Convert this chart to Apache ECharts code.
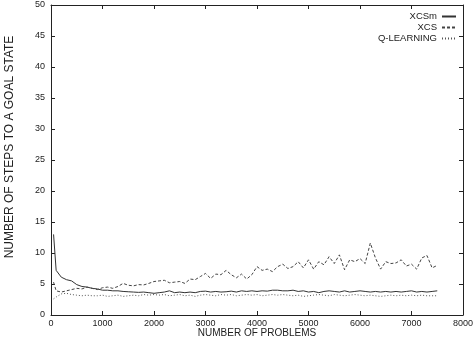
<!DOCTYPE html>
<html>
<head>
<meta charset="utf-8">
<script src="https://cdn.jsdelivr.net/npm/echarts@6/dist/echarts.min.js"></script>
<style>html,body{margin:0;padding:0;background:#fff}#c{width:474px;height:339px}</style>
</head>
<body>
<div id="c"></div>
<script>
var problems = [50,100,200,300,400,500,600,700,800,900,
  1000,1100,1200,1300,1400,1500,1600,1700,1800,1900,
  2000,2100,2200,2300,2400,2500,2600,2700,2800,2900,
  3000,3100,3200,3300,3400,3500,3600,3700,3800,3900,
  4000,4100,4200,4300,4400,4500,4600,4700,4800,4900,
  5000,5100,5200,5300,5400,5500,5600,5700,5800,5900,
  6000,6100,6200,6300,6400,6500,6600,6700,6800,6900,
  7000,7100,7200,7300,7400,7500];
var xcsm = [13.0,7.2,6.1,5.7,5.5,4.9,4.6,4.5,4.3,4.2,
  4.0,4.0,3.9,3.9,3.8,3.75,3.7,3.65,3.7,3.6,
  3.5,3.6,3.7,3.9,3.6,3.7,3.6,3.7,3.6,3.8,
  3.85,3.7,3.8,3.7,3.75,3.85,3.7,3.9,3.8,3.9,
  3.8,3.9,3.85,4.0,4.0,3.9,3.9,4.0,3.8,3.9,
  3.7,3.8,3.6,3.8,3.9,3.8,3.7,3.9,3.7,3.8,
  3.9,3.8,3.7,3.8,3.7,3.8,3.7,3.8,3.7,3.8,
  3.9,3.7,3.8,3.7,3.8,3.9];
var xcs = [5.3,3.9,3.7,3.9,4.1,4.3,4.2,4.5,4.3,4.1,
  4.4,4.5,4.3,4.6,5.1,4.8,4.7,4.9,4.85,5.1,
  5.4,5.5,5.6,5.2,5.3,5.4,5.1,5.8,5.7,6.2,
  6.7,5.9,6.6,6.5,7.2,6.5,6.0,6.6,5.8,6.5,
  7.8,7.2,7.4,7.0,7.8,8.2,7.5,7.8,8.6,7.6,
  8.9,7.4,8.6,8.1,9.4,8.3,9.7,7.3,8.9,8.6,
  9.1,8.3,11.6,9.2,7.4,8.6,8.3,8.4,8.9,7.9,
  8.2,7.4,9.2,9.6,7.6,8.0];
var qlearning = [2.6,2.9,3.4,3.5,3.3,3.2,3.1,3.2,3.1,3.1,
  3.2,3.0,3.1,3.2,3.0,3.1,3.2,3.1,3.3,3.2,
  3.3,3.2,3.3,3.1,3.2,3.3,3.1,3.2,3.0,3.2,
  3.3,3.2,3.1,3.3,3.2,3.3,3.1,3.2,3.3,3.2,
  3.3,3.1,3.2,3.3,3.2,3.3,3.2,3.1,3.2,3.0,
  3.1,3.2,3.3,3.2,3.1,3.3,3.2,3.1,3.2,3.3,
  3.2,3.1,3.2,3.1,3.0,3.1,3.2,3.1,3.2,3.1,
  3.2,3.1,3.2,3.1,3.1,3.1];
var seriesNames = ['XCSm','XCS','Q-LEARNING'];
var xTitle = 'NUMBER OF PROBLEMS';
var yTitle = 'NUMBER OF STEPS TO A GOAL STATE';

function pairs(ys){ return problems.map(function(x,i){ return [x, ys[i]]; }); }

var FONT = '"Liberation Sans", Arial, sans-serif';
var ink = '#222';
var chart = echarts.init(document.getElementById('c'), null, {renderer:'canvas'});
var axisCommon = {
  axisLine:{show:true, onZero:false, lineStyle:{color:ink, width:1}},
  axisTick:{show:true, inside:true, length:4, lineStyle:{color:ink, width:1}},
  splitLine:{show:false}
};
function plain(v){ return String(v); }
chart.setOption({
  animation:false,
  backgroundColor:'#fff',
  grid:{left:51, right:11, top:5, bottom:24, containLabel:false, outerBoundsMode:'none'},
  legend:{
    orient:'vertical', right:17, top:11, align:'right', padding:0,
    itemWidth:14, itemHeight:7, itemGap:0,
    itemStyle:{opacity:0},
    textStyle:{fontFamily:FONT, fontSize:9.5, lineHeight:11, color:ink, padding:[0,0,0,0]},
    data:seriesNames
  },
  xAxis:[
    Object.assign({type:'value', min:0, max:8000, interval:1000, position:'bottom',
      name:xTitle, nameLocation:'middle', nameGap:13, nameMoveOverlap:false,
      nameTextStyle:{fontFamily:FONT, fontSize:10, color:ink},
      axisLabel:{fontFamily:FONT, fontSize:9, color:ink, margin:4, formatter:plain}}, axisCommon),
    Object.assign({type:'value', min:0, max:8000, interval:1000, position:'top',
      axisLabel:{show:false}}, axisCommon)
  ],
  yAxis:[
    Object.assign({type:'value', min:0, max:50, interval:5, position:'left',
      name:yTitle, nameLocation:'middle', nameGap:35, nameMoveOverlap:false,
      nameTextStyle:{fontFamily:FONT, fontSize:12, color:ink, padding:[0,0,0,26]},
      axisLabel:{fontFamily:FONT, fontSize:9, color:ink, margin:6, formatter:plain}}, axisCommon),
    Object.assign({type:'value', min:0, max:50, interval:5, position:'right',
      axisLabel:{show:false}}, axisCommon)
  ],
  series:[
    {name:seriesNames[0], type:'line', data:pairs(xcsm), symbol:'none', showSymbol:false,
      lineStyle:{color:'#333', width:1, type:'solid'}, itemStyle:{color:'#333'}},
    {name:seriesNames[1], type:'line', data:pairs(xcs), symbol:'none', showSymbol:false,
      lineStyle:{color:'#444', width:1, type:[3,2]}, itemStyle:{color:'#444'}},
    {name:seriesNames[2], type:'line', data:pairs(qlearning), symbol:'none', showSymbol:false,
      lineStyle:{color:'#555', width:1, type:[1,2]}, itemStyle:{color:'#555'}}
  ]
});
</script>
</body>
</html>
